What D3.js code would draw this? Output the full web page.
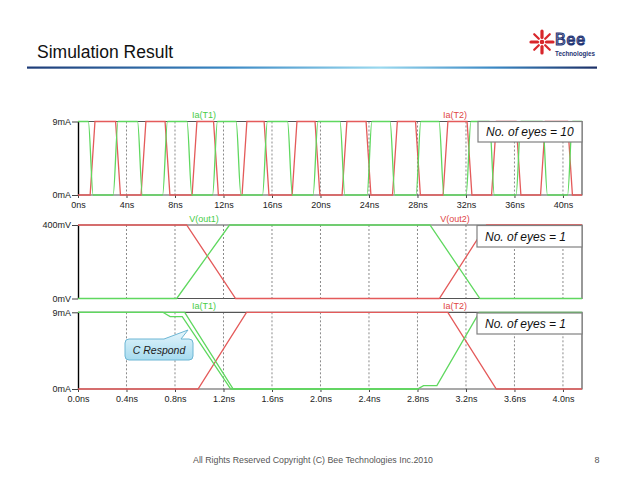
<!DOCTYPE html>
<html>
<head>
<meta charset="utf-8">
<script src="https://cdn.jsdelivr.net/npm/d3@7"></script>
<style>
body { margin: 0; background: #fff; }
svg { display: block; font-family: "Liberation Sans", Arial, sans-serif; }
</style>
</head>
<body>
<svg id="main" width="638" height="478"></svg>
<script>
// breakpoints, [time ns, value]
var topTimeTicks = [0, 4, 8, 12, 16, 20, 24, 28, 32, 36, 40];
var zoomTimeTicks = [0, 0.4, 0.8, 1.2, 1.6, 2.0, 2.4, 2.8, 3.2, 3.6, 4.0];
var currentTicks = [0, 9];
var voltTicks = [0, 400];

// panel 1: 10 periods of the transmitter currents
var iaT1Long = [[0,9],[0.85,9],[1.25,0],[2.90,0],[3.30,9],
    [4.91,9],[5.31,0],[6.98,0],[7.38,9],
    [8.99,9],[9.39,0],[11.10,0],[11.50,9],
    [13.04,9],[13.44,0],[15.22,0],[15.62,9],
    [17.28,9],[17.68,0],[19.39,0],[19.79,9],
    [21.61,9],[22.01,0],[23.84,0],[24.24,9],
    [25.74,9],[26.14,0],[27.88,0],[28.28,9],
    [29.78,9],[30.18,0],[32.01,0],[32.41,9],
    [33.94,9],[34.34,0],[36.13,0],[36.53,9],
    [38.32,9],[38.72,0],[40.38,0],[40.78,9],
    [41.57,9]];
var iaT2Long = [[0,0],[1.00,0],[1.40,9],[3.10,9],[3.50,0],
    [5.20,0],[5.60,9],[7.18,9],[7.58,0],
    [9.41,0],[9.81,9],[11.18,9],[11.58,0],
    [13.53,0],[13.93,9],[15.35,9],[15.75,0],
    [17.66,0],[18.06,9],[19.55,9],[19.95,0],
    [21.78,0],[22.18,9],[23.76,9],[24.16,0],
    [25.94,0],[26.34,9],[27.84,9],[28.24,0],
    [30.11,0],[30.51,9],[32.09,9],[32.49,0],
    [34.11,0],[34.51,9],[36.13,9],[36.53,0],
    [38.15,0],[38.55,9],[40.38,9],[40.78,0],
    [41.57,0]];

// panel 2: receiver outputs (mV)
var vOut1 = [[0,0],[8.14,0],[12.5,400],[29.03,400],[33.15,0],[41.57,0]];
var vOut2 = [[0,400],[8.96,400],[13.0,0],[29.8,0],[33.7,400],[41.57,400]];

// panel 3: first period, zoomed
var iaT1Zoom = [[0,9],[0.70,9],[0.76,8.5],[0.86,8.5],[1.26,0],[2.80,0],
    [2.85,0.4],[2.96,0.4],[3.31,9],[4.157,9]];
var iaT1ZoomB = [[0,9],[0.88,9],[1.28,0],[2.80,0]];
var iaT2Zoom = [[0,0],[0.99,0],[1.39,9],[3.05,9],[3.45,0],[4.157,0]];

var RED = '#e45a5a', GREEN = '#5fd85f';
var RED_LBL = '#e04545', GREEN_LBL = '#46cc46';

var svg = d3.select('svg#main');
var defs = svg.append('defs');

// ---- header ----
var bar = defs.append('linearGradient').attr('id', 'bar');
[[0,'#1e3c78'],[0.35,'#3a88c4'],[0.62,'#9ad9ef'],[0.82,'#3a88c4'],[1,'#1c2f66']].forEach(function(s) {
    bar.append('stop').attr('offset', s[0]).attr('stop-color', s[1]);
});
svg.append('text').attr('x', 37).attr('y', 58)
    .attr('font-size', 17.5).attr('fill', '#111').text('Simulation Result');
svg.append('rect').attr('x', 27).attr('y', 66.5).attr('width', 570).attr('height', 2.2)
    .attr('fill', 'url(#bar)');

// logo
var logo = svg.append('g').attr('transform', 'translate(542,42)');
d3.range(8).forEach(function(i) {
    var a = i * Math.PI / 4;
    logo.append('line')
        .attr('x1', Math.cos(a) * 4.5).attr('y1', Math.sin(a) * 4.5)
        .attr('x2', Math.cos(a) * 11).attr('y2', Math.sin(a) * 11)
        .attr('stroke', '#d8262b').attr('stroke-width', i % 2 ? 2.2 : 3.2)
        .attr('stroke-linecap', 'round');
});
logo.append('circle').attr('r', 2.3).attr('fill', '#d8262b');
svg.append('text').attr('x', 555).attr('y', 45).attr('font-size', 16)
    .attr('fill', '#fff').attr('stroke', '#1f3474').attr('stroke-width', 1.1)
    .attr('letter-spacing', 0.8).text('Bee');
svg.append('text').attr('x', 555).attr('y', 55.5).attr('font-size', 6.3)
    .attr('font-weight', 'bold').attr('fill', '#1f3474').text('Technologies');

// ---- panels ----
function drawPanel(p) {
    var g = svg.append('g');
    var x0 = p.x.range()[0], x1 = p.x.range()[1];
    var yb = p.y.range()[0], yt = p.y.range()[1];

    g.selectAll('line.grid').data(p.ticks.filter(function(t) { return t > 0; }))
        .join('line')
        .attr('x1', function(d) { return p.x(d); }).attr('x2', function(d) { return p.x(d); })
        .attr('y1', yt).attr('y2', yb)
        .attr('stroke', '#8a8a8a').attr('stroke-width', 1).attr('stroke-dasharray', '2,2');

    // frame
    g.append('path').attr('d', 'M' + x0 + ',' + yt + 'H' + x1 + 'V' + yb + 'H' + x0)
        .attr('fill', 'none').attr('stroke', '#555').attr('stroke-width', 1.2);

    if (p.showX) {
        var ax = g.append('g').attr('transform', 'translate(0,' + yb + ')')
            .call(d3.axisBottom(p.x).tickValues(p.ticks).tickFormat(p.xFmt)
                .tickSize(3).tickSizeOuter(0).tickPadding(4));
        ax.select('.domain').remove();
        ax.selectAll('line').attr('stroke', '#444');
        ax.selectAll('text').attr('font-size', 9).attr('fill', '#222')
            .attr('font-family', '"Liberation Sans", Arial, sans-serif');
    }
    var ay = g.append('g').attr('transform', 'translate(' + x0 + ',0)')
        .call(d3.axisLeft(p.y).tickValues(p.yTicks).tickFormat(p.yFmt)
            .tickSize(6).tickSizeOuter(0).tickPadding(1));
    ay.select('.domain').attr('stroke', '#000').attr('stroke-width', 1.4);
    ay.selectAll('line').attr('stroke', '#444');
    ay.selectAll('text').attr('font-size', 9).attr('fill', '#222')
        .attr('font-family', '"Liberation Sans", Arial, sans-serif');

    p.traces.forEach(function(tr) {
        var line = d3.line()
            .x(function(d) { return p.x(d[0]); })
            .y(function(d) { return p.y(d[1]); })
            .curve(tr.curve || d3.curveLinear);
        g.append('path').datum(tr.data).attr('d', line)
            .attr('fill', 'none').attr('stroke', tr.color).attr('stroke-width', 1.3);
    });

    p.labels.forEach(function(l) {
        g.append('text').attr('x', l.x).attr('y', p.labelY).attr('text-anchor', 'middle')
            .attr('font-size', 9).attr('fill', l.color).text(l.text);
    });
}

var xLong = d3.scaleLinear().domain([0, 41.57]).range([78, 582]);
var xZoom = d3.scaleLinear().domain([0, 4.157]).range([78, 582]);

drawPanel({
    x: xLong, y: d3.scaleLinear().domain([0, 9]).range([195, 121.5]),
    ticks: topTimeTicks, showX: true, xFmt: function(d) { return d + 'ns'; },
    yTicks: currentTicks, yFmt: function(d) { return d + 'mA'; },
    traces: [{data: iaT2Long, color: RED}, {data: iaT1Long, color: GREEN, curve: d3.curveMonotoneX}],
    labelY: 117.5,
    labels: [{x: 204, text: 'Ia(T1)', color: GREEN_LBL}, {x: 455, text: 'Ia(T2)', color: RED_LBL}]
});

drawPanel({
    x: xLong, y: d3.scaleLinear().domain([0, 400]).range([298.5, 225]),
    ticks: topTimeTicks, showX: false,
    yTicks: voltTicks, yFmt: function(d) { return d + 'mV'; },
    traces: [{data: vOut2, color: RED}, {data: vOut1, color: GREEN}],
    labelY: 221.5,
    labels: [{x: 204, text: 'V(out1)', color: GREEN_LBL}, {x: 455, text: 'V(out2)', color: RED_LBL}]
});

drawPanel({
    x: xZoom, y: d3.scaleLinear().domain([0, 9]).range([389, 312.3]),
    ticks: zoomTimeTicks, showX: true, xFmt: function(d) { return d3.format('.1f')(d) + 'ns'; },
    yTicks: currentTicks, yFmt: function(d) { return d + 'mA'; },
    traces: [{data: iaT2Zoom, color: RED}, {data: iaT1ZoomB, color: GREEN}, {data: iaT1Zoom, color: GREEN}],
    labelY: 309,
    labels: [{x: 204, text: 'Ia(T1)', color: GREEN_LBL}, {x: 455, text: 'Ia(T2)', color: RED_LBL}]
});

// ---- annotations ----
function eyesBox(x, y, w, h, label) {
    svg.append('rect').attr('x', x).attr('y', y).attr('width', w).attr('height', h)
        .attr('fill', '#fff').attr('stroke', '#808080').attr('stroke-width', 1.2);
    svg.append('text').attr('x', x + 8).attr('y', y + h / 2 + 4.3)
        .attr('font-size', 12).attr('font-style', 'italic').attr('fill', '#111').text(label);
}
eyesBox(478, 121.5, 104, 20.5, 'No. of eyes = 10');
eyesBox(477, 225.5, 105, 21.5, 'No. of eyes = 1');
eyesBox(477, 313, 105, 21, 'No. of eyes = 1');

// callout bubble
var cg = defs.append('linearGradient').attr('id', 'bubble').attr('x1', 0).attr('x2', 0).attr('y1', 0).attr('y2', 1);
cg.append('stop').attr('offset', 0).attr('stop-color', '#e6f6fc');
cg.append('stop').attr('offset', 1).attr('stop-color', '#a6dbef');
svg.append('path')
    .attr('d', 'M129,339 H164 L188,330 L181,339 H189 Q193,339 193,343 V356 Q193,360 189,360 H129 Q125,360 125,356 V343 Q125,339 129,339 Z')
    .attr('fill', 'url(#bubble)').attr('stroke', '#6db6d4').attr('stroke-width', 1);
svg.append('text').attr('x', 159).attr('y', 353.5).attr('text-anchor', 'middle')
    .attr('font-size', 10.5).attr('font-style', 'italic').attr('fill', '#1a1a1a').text('C Respond');

// ---- footer ----
svg.append('text').attr('x', 313).attr('y', 463).attr('text-anchor', 'middle')
    .attr('font-size', 8.8).attr('fill', '#555')
    .text('All Rights Reserved Copyright (C) Bee Technologies Inc.2010');
svg.append('text').attr('x', 597).attr('y', 463).attr('text-anchor', 'middle')
    .attr('font-size', 9).attr('fill', '#555').text('8');
</script>
</body>
</html>
